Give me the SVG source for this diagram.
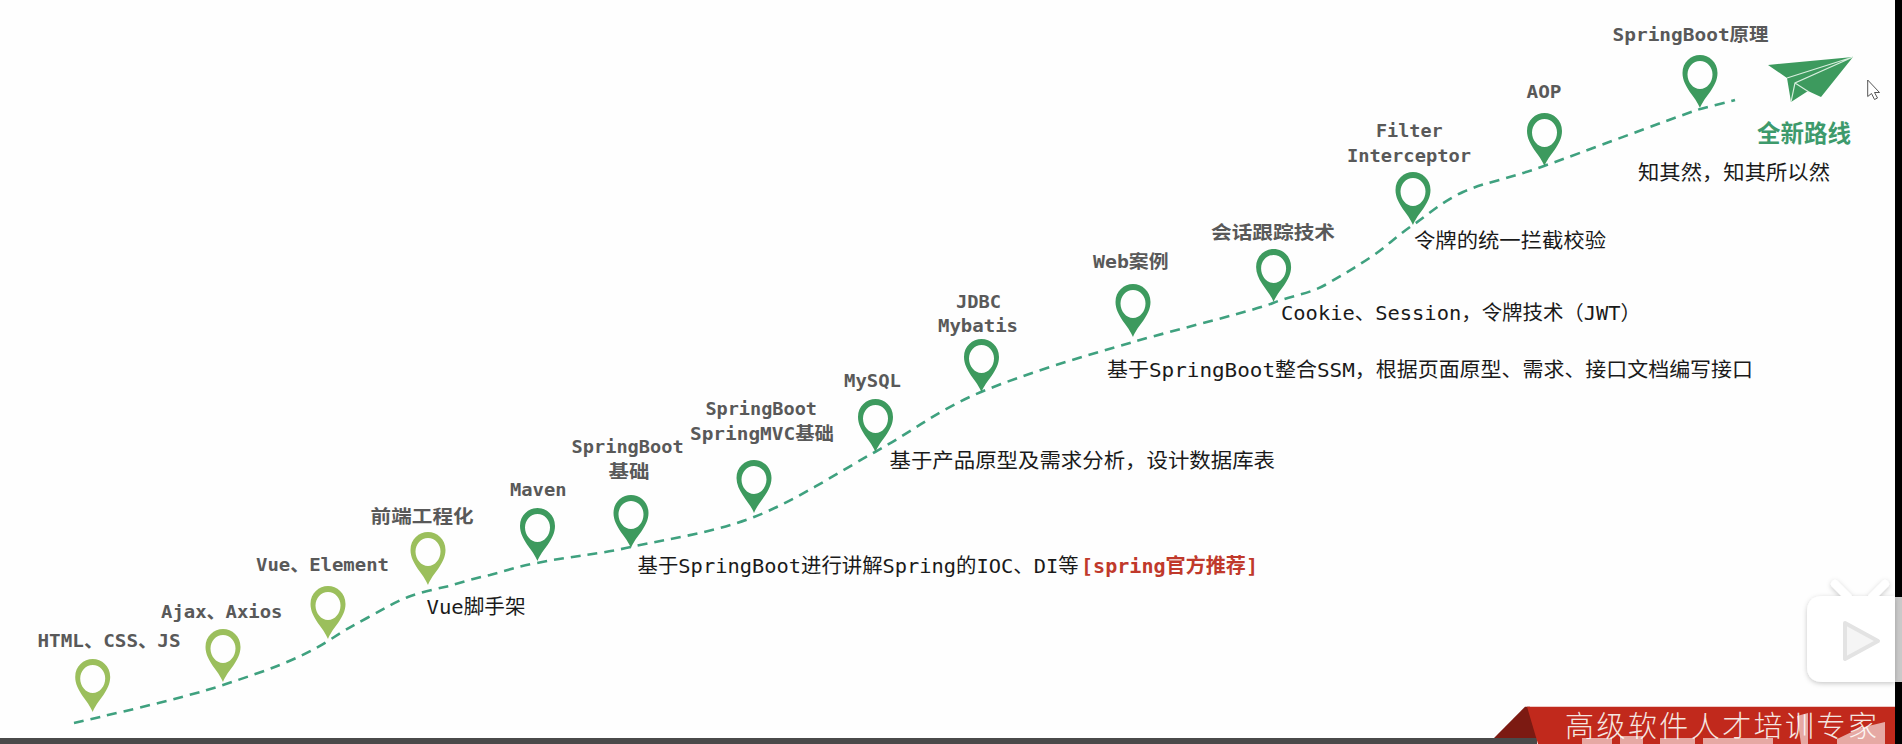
<svg xmlns="http://www.w3.org/2000/svg" width="1902" height="744" viewBox="0 0 1902 744">
<style>
.lbl{font-family:"DejaVu Sans Mono","Noto Sans CJK SC",monospace;font-size:18.5px;font-weight:700;fill:#595959;text-anchor:start}
.note{font-family:"DejaVu Sans Mono","Noto Sans CJK SC",monospace;font-size:20px;fill:#1a1a1a}
.red{font-family:"DejaVu Sans Mono","Noto Sans CJK SC",monospace;font-size:20px;font-weight:700;fill:#c0392b}
.lite{fill:#9bbf5c}
.dark{fill:#3d9a5e}
.route{fill:none;stroke:#3fa17f;stroke-width:2.6;stroke-dasharray:10 7}
</style>
<defs>
<path id="pin" fill-rule="evenodd" d="M0 0C-4 -11 -17.5 -21 -17.5 -35C-17.5 -46 -9 -53 0 -53C9 -53 17.5 -46 17.5 -35C17.5 -21 4 -11 0 0ZM0 -47C-7 -47 -12.5 -41 -12.5 -33.500C-12.500 -26 -7 -19 0 -19C7 -19 12.500 -26 12.500 -33.500C12.500 -41 7 -47 0 -47Z"/>
<filter id="soft" x="-20%" y="-20%" width="140%" height="140%"><feDropShadow dx="0" dy="1.500" stdDeviation="2.500" flood-color="#000" flood-opacity=".22"/></filter>
<filter id="softin" x="-30%" y="-30%" width="160%" height="160%"><feDropShadow dx="1" dy="1" stdDeviation="1" flood-color="#fff" flood-opacity="1"/></filter>
</defs>
<rect width="1902" height="744" fill="#fefefe"/>
<g id="connectors">
<path class="route" d="M74 723C99 717 181 699 223 685C265 671 298 660 328 641C345 630 352 626 367 618C382 610 395 602 408 597C421 592 436 589 449 586C462 582 476 578 490 575C505 571 520 566 537 563C571 556 595 555 631 547C667 539 713 533 754 517C795 501 837 473 875 452C913 431 938 410 981 392C1024 374 1084 356 1133 342C1182 328 1256 310 1273 303C1290 296 1309 294 1325 285C1341 276 1356 267 1371 257C1386 247 1398 235 1413 225C1428 215 1441 202 1463 192C1485 182 1505 180 1544 166C1583 152 1665 121 1697 110C1706 107 1729 102 1735 100"/>
</g>
<g id="node-html"><use href="#pin" x="92.700" y="712" class="lite"/><text class="lbl" x="37.500" y="646.700" textLength="143" lengthAdjust="spacingAndGlyphs">HTML、CSS、JS</text></g>
<g id="node-ajax"><use href="#pin" x="223" y="682" class="lite"/><text class="lbl" x="161" y="617.700" textLength="121.500" lengthAdjust="spacingAndGlyphs">Ajax、Axios</text></g>
<g id="node-vue"><use href="#pin" x="328" y="639" class="lite"/><text class="lbl" x="256" y="571" textLength="133" lengthAdjust="spacingAndGlyphs">Vue、Element</text></g>
<g id="node-frontend"><use href="#pin" x="428" y="585" class="lite"/><text class="lbl" x="370.600" y="523" textLength="103" lengthAdjust="spacingAndGlyphs">前端工程化</text><text class="note" x="426.500" y="614" textLength="99" lengthAdjust="spacingAndGlyphs">Vue脚手架</text></g>
<g id="node-maven"><use href="#pin" x="537.500" y="561" class="dark"/><text class="lbl" x="510" y="495.700" textLength="56.500" lengthAdjust="spacingAndGlyphs">Maven</text></g>
<g id="node-springboot"><use href="#pin" x="631" y="548" class="dark"/><text class="lbl" x="571.600" y="453.300" textLength="112" lengthAdjust="spacingAndGlyphs">SpringBoot</text><text class="lbl" x="608.500" y="478" textLength="41" lengthAdjust="spacingAndGlyphs">基础</text><text class="note" x="637.600" y="573" textLength="441" lengthAdjust="spacingAndGlyphs">基于SpringBoot进行讲解Spring的IOC、DI等</text><text class="red" x="1081" y="573" textLength="177" lengthAdjust="spacingAndGlyphs">[spring官方推荐]</text></g>
<g id="node-mvc"><use href="#pin" x="754" y="513" class="dark"/><text class="lbl" x="705.400" y="415.300" textLength="111.600" lengthAdjust="spacingAndGlyphs">SpringBoot</text><text class="lbl" x="690" y="440" textLength="144" lengthAdjust="spacingAndGlyphs">SpringMVC基础</text></g>
<g id="node-mysql"><use href="#pin" x="875.500" y="452" class="dark"/><text class="lbl" x="844" y="387" textLength="57" lengthAdjust="spacingAndGlyphs">MySQL</text><text class="note" x="889.500" y="468" textLength="385.500" lengthAdjust="spacingAndGlyphs">基于产品原型及需求分析，设计数据库表</text></g>
<g id="node-jdbc"><use href="#pin" x="981.500" y="392" class="dark"/><text class="lbl" x="956" y="308" textLength="45" lengthAdjust="spacingAndGlyphs">JDBC</text><text class="lbl" x="938" y="332" textLength="80" lengthAdjust="spacingAndGlyphs">Mybatis</text></g>
<g id="node-web"><use href="#pin" x="1133" y="337" class="dark"/><text class="lbl" x="1093" y="268" textLength="75.500" lengthAdjust="spacingAndGlyphs">Web案例</text><text class="note" x="1107" y="377" textLength="646" lengthAdjust="spacingAndGlyphs">基于SpringBoot整合SSM，根据页面原型、需求、接口文档编写接口</text></g>
<g id="node-session"><use href="#pin" x="1273.600" y="302" class="dark"/><text class="lbl" x="1211" y="239" textLength="124" lengthAdjust="spacingAndGlyphs">会话跟踪技术</text><text class="note" x="1281" y="320" textLength="360" lengthAdjust="spacingAndGlyphs">Cookie、Session，令牌技术（JWT）</text></g>
<g id="node-filter"><use href="#pin" x="1413" y="225" class="dark"/><text class="lbl" x="1376" y="137" textLength="66.600" lengthAdjust="spacingAndGlyphs">Filter</text><text class="lbl" x="1347" y="162" textLength="124" lengthAdjust="spacingAndGlyphs">Interceptor</text><text class="note" x="1414" y="248" textLength="192" lengthAdjust="spacingAndGlyphs">令牌的统一拦截校验</text></g>
<g id="node-aop"><use href="#pin" x="1544.500" y="166" class="dark"/><text class="lbl" x="1526.500" y="98" textLength="35" lengthAdjust="spacingAndGlyphs">AOP</text></g>
<g id="node-principle"><use href="#pin" x="1700" y="108" class="dark"/><text class="lbl" x="1612.500" y="40.700" textLength="156" lengthAdjust="spacingAndGlyphs">SpringBoot原理</text><text class="note" x="1638" y="180" textLength="192" lengthAdjust="spacingAndGlyphs">知其然，知其所以然</text></g>
<g id="node-plane">
<polygon class="dark" points="1768,65 1853,57 1821,97 1808,91 1791,102 1787,78"/>
<path d="M1853 57L1787 78M1853 57L1795 83L1791 102M1795 83L1809 92" fill="none" stroke="#d8eede" stroke-width="1.200"/>
<text x="1757" y="141.700" font-family="Noto Sans CJK SC,Noto Sans,sans-serif" font-size="23.500" font-weight="700" fill="#3d9a6c" textLength="94" lengthAdjust="spacingAndGlyphs">全新路线</text>
</g>
<path id="cursor" d="M1867.700 80L1867.700 96.500L1871.500 93.500L1874.500 99.500L1877.500 98L1874.500 92.500L1879.500 92.500Z" fill="#fff" stroke="#555" stroke-width="1"/>
<rect id="bar-right" x="1895" y="0" width="7" height="744" fill="#000"/>
<rect id="bar-bottom" x="0" y="738" width="1537" height="6" fill="#4a4a4a"/>
<g id="ribbon">
<polygon points="1494,738 1525,706.700 1530,706.700 1539,738" fill="#7c1a12"/>
<polygon points="1527,706.700 1895,706.700 1895,744 1538,744" fill="#c1291c"/>
<text x="1565" y="737" font-family="Noto Sans CJK SC,sans-serif" font-size="29" font-weight="300" fill="#f5e6e0" textLength="312" lengthAdjust="spacing">高级软件人才培训专家</text>
<path d="M1582 738H1612V744H1582ZM1620 736H1643V744H1620ZM1660 738H1695V744H1660ZM1703 738H1773V744H1703ZM1797 716L1808 713V744H1801ZM1837 739L1860 728L1885 722V744H1837Z" fill="#fff" fill-opacity=".6"/>
</g>
<g id="tv-logo">
<rect x="1895" y="597" width="7" height="85" fill="#c9c9c9"/>
<g filter="url(#soft)">
<path d="M1835 584L1848 597M1885 584L1872 597" stroke="#fff" stroke-width="8" stroke-linecap="round" fill="none"/>
<path d="M1895 596H1823Q1807 596 1807 612V666Q1807 682 1823 682H1895Z" fill="#fff"/>
</g>
<path d="M1845 623L1878 641L1845 659Z" fill="#f5f5f5" stroke="#e3e3e3" stroke-width="4" stroke-linejoin="round"/>
</g>
</svg>
